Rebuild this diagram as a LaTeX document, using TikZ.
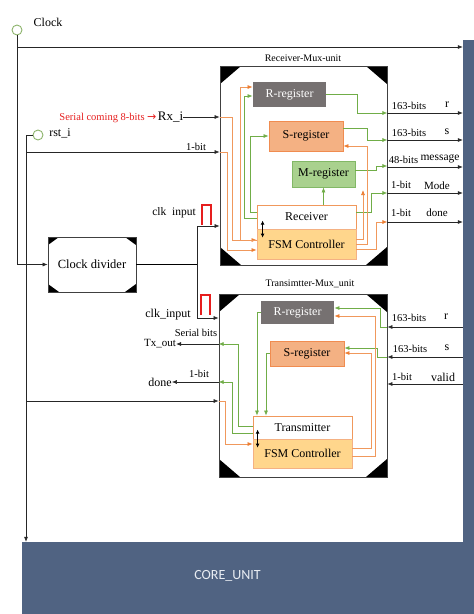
\documentclass[tikz,border=0pt]{standalone}
\usepackage{fontspec}
\setmainfont{Liberation Serif}
\newfontfamily\corefont{Carlito}
\newfontfamily\arrowfont{DejaVu Sans}
\usetikzlibrary{arrows.meta}
\definecolor{portgreen}{RGB}{141,180,108}
\definecolor{wireorange}{RGB}{240,152,92}
\definecolor{wiretip}{RGB}{237,125,49}
\definecolor{wiregreen}{RGB}{112,173,71}
\definecolor{reggrey}{RGB}{118,113,113}
\definecolor{regsalmon}{RGB}{244,177,131}
\definecolor{salborder}{RGB}{240,140,80}
\definecolor{reggreen}{RGB}{169,209,142}
\definecolor{grnborder}{RGB}{130,184,102}
\definecolor{fsmfill}{RGB}{255,214,140}
\definecolor{fsmborder}{RGB}{244,177,131}
\definecolor{corefill}{RGB}{80,99,130}
\definecolor{coretext}{RGB}{232,236,242}
\definecolor{pulsered}{RGB}{230,30,30}
\tikzset{
  lbl/.style={inner sep=0pt, font=\fontsize{12}{12}\selectfont},
  small/.style={inner sep=0pt, font=\fontsize{10.5}{10.5}\selectfont},
  redlbl/.style={inner sep=0pt, text=pulsered, font=\fontsize{10.5}{10.5}\selectfont},
  port/.style={circle, draw=portgreen, fill=white, line width=0.9pt, minimum size=10pt, inner sep=0pt},
  sig/.style={draw=black!85, line width=0.6pt, -{Latex[length=5pt,width=4pt]}},
  owire/.style={draw=wireorange, line width=0.7pt, -{Latex[length=5pt,width=4pt,color=wiretip]}},
  gwire/.style={draw=wiregreen, line width=0.7pt, -{Latex[length=5pt,width=4pt]}},
  dblarrow/.style={draw=black, line width=1pt, {Latex[length=4pt,width=4pt]}-{Latex[length=4pt,width=4pt]}},
  pulse/.style={draw=pulsered, line width=1.1pt},
  reg/.style={inner sep=0pt, line width=0.8pt, font=\fontsize{12}{12}\selectfont},
  greyreg/.style={reg, fill=reggrey, text=white},
  salreg/.style={reg, fill=regsalmon, draw=salborder},
  grnreg/.style={reg, fill=reggreen, draw=grnborder},
  unitbox/.style={reg, fill=white, draw=wireorange},
  fsm/.style={reg, fill=fsmfill, draw=fsmborder},
  core/.style={fill=corefill, inner sep=0pt},
  coretxt/.style={inner sep=0pt, text=coretext, font=\corefont\fontsize{14}{14}\selectfont},
  mux/.style={draw=black!75, line width=0.8pt, fill=white, inner sep=0pt,
    path picture={
      \fill[black] (path picture bounding box.north west) -- ++(21pt,0pt) -- ++(-21pt,-18pt) -- cycle;
      \fill[black] (path picture bounding box.north east) -- ++(-21pt,0pt) -- ++(21pt,-18pt) -- cycle;
      \fill[black] (path picture bounding box.south west) -- ++(21pt,0pt) -- ++(-21pt,18pt) -- cycle;
      \fill[black] (path picture bounding box.south east) -- ++(-21pt,0pt) -- ++(21pt,18pt) -- cycle;}},
  divbox/.style={draw=black!75, line width=0.8pt, fill=white, inner sep=0pt, font=\fontsize{12.5}{12.5}\selectfont,
    path picture={
      \fill[black] (path picture bounding box.north west) -- ++(11pt,0pt) -- ++(-11pt,-8pt) -- cycle;
      \fill[black] (path picture bounding box.north east) -- ++(-11pt,0pt) -- ++(11pt,-8pt) -- cycle;
      \fill[black] (path picture bounding box.south west) -- ++(11pt,0pt) -- ++(-11pt,8pt) -- cycle;
      \fill[black] (path picture bounding box.south east) -- ++(-11pt,0pt) -- ++(11pt,8pt) -- cycle;}},
  titletxt/.style={inner sep=0pt, font=\fontsize{10}{10}\selectfont}
}
\begin{document}
\begin{tikzpicture}[x=1pt,y=-1pt]
\useasboundingbox (0,0) rectangle (474,614);
% core unit
\node[core, minimum width=11pt, minimum height=502pt] (corebar) at (468.5,291){};
\node[core, minimum width=452pt, minimum height=72pt] (corebase) at (248,578){};
\node[coretxt] (coretitle) at (227.5,576){CORE\_UNIT};

% inputs and clock divider
\node[port] (clk) at (17,30){};
\node[lbl] (clktxt) at (48,22){Clock};
\node[port] (rst) at (38,135){};
\node[lbl] (rsttxt) at (60,133){rst\_i};
\node[divbox, minimum width=88pt, minimum height=55pt] (clkdiv) at (92,264.5){Clock divider};
\coordinate (rstrx) at (26,152);
\coordinate (rsttx) at (26,401);
\coordinate (clkbus) at (197,264.5);

% receiver mux unit
\node[mux, minimum width=167pt, minimum height=199pt] (rxu) at (303.5,165.5){};
\node[titletxt] (rxutitle) at (303,58){Receiver-Mux-unit};
\node[greyreg, minimum width=73pt, minimum height=25pt] (rxr) at (289.5,94.5){R-register};
\node[salreg, minimum width=74pt, minimum height=30pt] (rxs) at (306,136){S-register};
\node[grnreg, minimum width=63pt, minimum height=26pt] (rxm) at (323.5,174){M-register};
\node[unitbox, minimum width=99pt, minimum height=24pt] (rxrecv) at (306.5,217){Receiver};
\node[fsm, minimum width=99pt, minimum height=30pt] (rxfsm) at (306.5,244){FSM Controller};
\coordinate (mtap) at (363,190);

% transmitter mux unit
\node[mux, minimum width=168pt, minimum height=183pt] (txu) at (303,385.5){};
\node[titletxt] (txutitle) at (310,284){Transimtter-Mux\_unit};
\node[greyreg, minimum width=73pt, minimum height=23pt] (txr) at (297.5,312.5){R-register};
\node[salreg, minimum width=74pt, minimum height=25pt] (txs) at (307,353.5){S-register};
\node[unitbox, minimum width=99pt, minimum height=23pt] (txtr) at (302.5,427.5){Transmitter};
\node[fsm, minimum width=99pt, minimum height=29pt] (txfsm) at (302.5,453.5){FSM Controller};

% clock and reset lines
\draw[sig](clk.south) |- (corebar.west |- 0,47);
\draw[sig](clk.south) |- (clkdiv.west);
\draw[sig](rst.west) -| (corebase.north -| rstrx);
\draw[sig](rstrx) -- (rxu.west |- rstrx);
\draw[sig](rsttx) -- (txu.west |- rsttx);
\node[small] (rstbit) at (196,147){1-bit};
\draw[](clkdiv.east) -- (clkbus);
\draw[sig](clkbus) |- (rxu.west |- 0,226);
\draw[sig](clkbus) |- (txu.west |- 0,318);
\node[lbl, font=\fontsize{11.5}{11.5}\selectfont] (rxclk) at (174,213){clk\ \ input};
\node[lbl] (txclk) at (168,315){clk\_input};
\draw[pulse] (202,225) -- (202,205) -- (211,205) -- (211,225);
\draw[pulse] (201,315) -- (201,295) -- (210,295) -- (210,315);

% receiver input
\node[lbl, font=\fontsize{13}{13}\selectfont] (rxi) at (170.5,117){Rx\_i};
\node[redlbl, anchor=base east] (rxserial) at ([xshift=-1pt]rxi.base west){Serial coming 8-bits {\arrowfont\fontsize{11}{11}\selectfont →}};
\draw[sig](rxi.east) -- (rxu.west |- rxi.east);

% receiver outputs
\draw[sig](rxu.east |- 0,113) -- (corebar.west |- 0,113);
\draw[sig](rxu.east |- 0,140) -- (corebar.west |- 0,140);
\draw[sig](rxu.east |- 0,167) -- (corebar.west |- 0,167);
\draw[sig](rxu.east |- 0,193) -- (corebar.west |- 0,193);
\draw[sig](rxu.east |- 0,222) -- (corebar.west |- 0,222);
\node[small] (rxrbits) at (409,106){163-bits};
\node[lbl] (rxrname) at (447,105){r};
\node[small] (rxsbits) at (409,133){163-bits};
\node[lbl] (rxsname) at (447,132){s};
\node[small] (rxmbits) at (403.5,160){48-bits};
\node[lbl, font=\fontsize{11.5}{11.5}\selectfont] (rxmname) at (440,159){message};
\node[small] (rxmodebit) at (401,185){1-bit};
\node[lbl, font=\fontsize{11}{11}\selectfont] (rxmodename) at (437,186){Mode};
\node[small] (rxdonebit) at (401,213){1-bit};
\node[lbl, font=\fontsize{11}{11}\selectfont] (rxdonename) at (437,213){done};

% receiver inner wires
\draw[owire](rxu.west |- rxi.east) -- ++(13,0) |- (rxfsm.west |- 0,240);
\draw[owire](rxu.west |- rstrx) -- ++(8,0) |- (rxfsm.west |- 0,250);
\draw[owire](rxfsm.west |- 0,240) -- ++(-16,0) |- (rxr.west |- 0,87);
\draw[gwire](rxrecv.west |- 0,218) -- ++(-12,0) |- (rxr.west |- 0,96);
\draw[gwire](rxrecv.west |- 0,212) -- ++(-6,0) |- (rxs.west);
\draw[gwire](rxrecv.north -| rxm.south) -- (rxm.south);
\draw[gwire](rxr.east) -- ++(31,0) |- (rxu.east |- 0,113);
\draw[gwire](rxs.east |- 0,128) -- ++(24,0) |- (rxu.east |- 0,140);
\draw[gwire](rxm.east |- 0,170) -- ++(21,0) |- (rxu.east |- 0,166);
\draw[gwire](rxrecv.east |- 0,212) -- ++(15,0) |- (rxu.east |- 0,193);
\draw[owire](rxfsm.east |- 0,239) -| (mtap);
\draw[owire](rxfsm.east |- 0,244) -- ++(11,0) |- (rxs.east |- 0,146);
\draw[owire](rxfsm.east |- 0,249) -- ++(20,0) |- (rxu.east |- 0,222);
\draw[dblarrow]([xshift=6pt,yshift=8pt]rxfsm.north west) -- ([xshift=6pt,yshift=-9pt]rxfsm.north west);

% transmitter outputs
\node[lbl, font=\fontsize{11}{11}\selectfont] (txout) at (160,344){Tx\_out};
\node[small] (txserial) at (196,333){Serial bits};
\draw[sig](txu.west |- txout) -- (txout.east);
\node[lbl] (txdone) at (160,382){done};
\node[small] (txdonebit) at (199,374){1-bit};
\draw[sig](txu.west |- txdone) -- (txdone.east);

% transmitter inputs
\draw[sig](corebar.west |- 0,327) -- (txu.east |- 0,327);
\draw[sig](corebar.west |- 0,357) -- (txu.east |- 0,357);
\draw[sig](corebar.west |- 0,384) -- (txu.east |- 0,384);
\node[small] (txrbits) at (409,318){163-bits};
\node[lbl] (txrname) at (446,317){r};
\node[small] (txsbits) at (410,349){163-bits};
\node[lbl] (txsname) at (447,348){s};
\node[small] (txvbit) at (402,377){1-bit};
\node[lbl] (txvname) at (443,377){valid};

% transmitter inner wires
\draw[gwire](txr.west) -| (txtr.north -| 257,0);
\draw[gwire](txs.west) -| (txtr.north -| 266,0);
\draw[gwire](txtr.west |- 0,426) -- ++(-14,0) |- (txu.west |- txout);
\draw[gwire](txtr.west |- 0,433) -- ++(-20,0) |- (txu.west |- txdone);
\draw[owire](txu.west |- rsttx) -- ++(7,0) |- (txfsm.west |- 0,444);
\draw[gwire](txu.east |- 0,327) -- ++(-7,0) |- (txr.east |- 0,308);
\draw[gwire](txu.east |- 0,357) -- ++(-10,0) |- (txs.east |- 0,348);
\draw[owire](txfsm.east |- 0,456) -- ++(23,0) |- (txr.east |- 0,316);
\draw[owire](txfsm.east |- 0,448) -- ++(19,0) |- (txs.east |- 0,353);
\draw[dblarrow]([xshift=5pt,yshift=9pt]txfsm.north west) -- ([xshift=5pt,yshift=-9pt]txfsm.north west);

\end{tikzpicture}
\end{document}
